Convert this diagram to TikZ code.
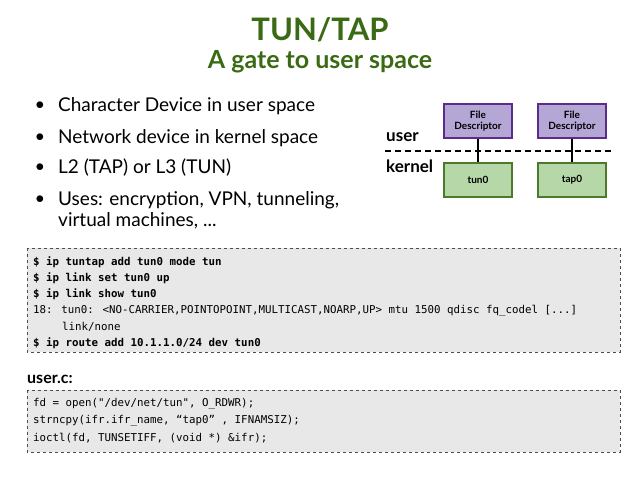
\documentclass[tikz,border=0pt]{standalone}
\usepackage{fontspec}
\setmainfont{Lato}
\newfontfamily\mono{DejaVu Sans Mono}[Scale=0.9]
\definecolor{titlec}{HTML}{3A6B14}
\definecolor{fdfill}{HTML}{B4A7D6}
\definecolor{fdline}{HTML}{5B2C8C}
\definecolor{nfill}{HTML}{B6D7A8}
\definecolor{nline}{HTML}{4A7A2A}
\definecolor{codebg}{HTML}{E8E8E8}
\begin{document}
\begin{tikzpicture}[x=1pt,y=-1pt,
  fd/.style={draw=fdline,fill=fdfill,line width=1.5pt,minimum width=68pt,minimum height=34pt,align=center,font=\bfseries\fontsize{10}{11}\selectfont},
  nd/.style={draw=nline,fill=nfill,line width=1.5pt,minimum width=68pt,minimum height=34pt,font=\bfseries\fontsize{10}{11}\selectfont},
  code/.style={draw=black!70,fill=codebg,dashed,line width=0.8pt},
  ct/.style={anchor=west,font=\mono\fontsize{12}{13}\selectfont,inner sep=0pt},
  cb/.style={ct,font=\mono\bfseries\fontsize{12}{13}\selectfont},
  bl/.style={anchor=west,font=\fontsize{19}{22}\selectfont,inner sep=0pt,align=left}]
\useasboundingbox (0,0) rectangle (638,478);
\node[font=\bfseries\fontsize{31}{34}\selectfont,text=titlec] (t1) at (320,30) {TUN/TAP};
\node[font=\bfseries\fontsize{25}{28}\selectfont,text=titlec] (t2) at (320,62) {A gate to user space};
\foreach \y/\t [count=\i] in {106/Character Device in user space,138/Network device in kernel space,168/L2 (TAP) or L3 (TUN),200/{Uses: encryption, VPN, tunneling,}}{
  \node[anchor=center,font=\fontsize{18}{21}\selectfont] (b\i) at (40,\y) {$\bullet$};
  \node[bl] (bt\i) at (58,\y) {\t};}
\node[bl] (bt5) at (58,221) {virtual machines, ...};
\node[fd] (fd1) at (478,121) {File\\Descriptor};
\node[fd] (fd2) at (572,121) {File\\Descriptor};
\node[nd] (n1) at (478,180) {tun0};
\node[nd] (n2) at (572,180) {tap0};
\draw[line width=1.8pt] (fd1) -- (n1);
\draw[line width=1.8pt] (fd2) -- (n2);
\coordinate (dl) at (385,151); \coordinate (dr) at (613,151);
\draw[line width=1.8pt,dash pattern=on 6pt off 4pt] (dl) -- (dr);
\node[anchor=west,font=\bfseries\fontsize{17}{20}\selectfont,inner sep=0pt] (u) at (386,137) {user};
\node[anchor=west,font=\bfseries\fontsize{17}{20}\selectfont,inner sep=0pt] (k) at (386,166) {kernel};
\draw[code] (27,248) rectangle (620,352);
\node[cb] (c1) at (33,262) {\$ ip tuntap add tun0 mode tun};
\node[cb] (c2) at (33,278) {\$ ip link set tun0 up};
\node[cb] (c3) at (33,294) {\$ ip link show tun0};
\node[ct] (c4) at (33,311) {18: tun0: <NO-CARRIER,POINTOPOINT,MULTICAST,NOARP,UP> mtu 1500 qdisc fq\_codel [...]};
\node[ct] (c5) at (62,327) {link/none};
\node[cb] (c6) at (33,343) {\$ ip route add 10.1.1.0/24 dev tun0};
\node[anchor=west,font=\bfseries\fontsize{16}{19}\selectfont,inner sep=0pt] (uc) at (27,379) {user.c:};
\draw[code] (27,390) rectangle (620,452);
\node[ct] (d1) at (33,404) {fd = open("/dev/net/tun", O\_RDWR);};
\node[ct] (d2) at (33,421) {strncpy(ifr.ifr\_name, “tap0” , IFNAMSIZ);};
\node[ct] (d3) at (33,438) {ioctl(fd, TUNSETIFF, (void *) \&ifr);};
\end{tikzpicture}
\end{document}
